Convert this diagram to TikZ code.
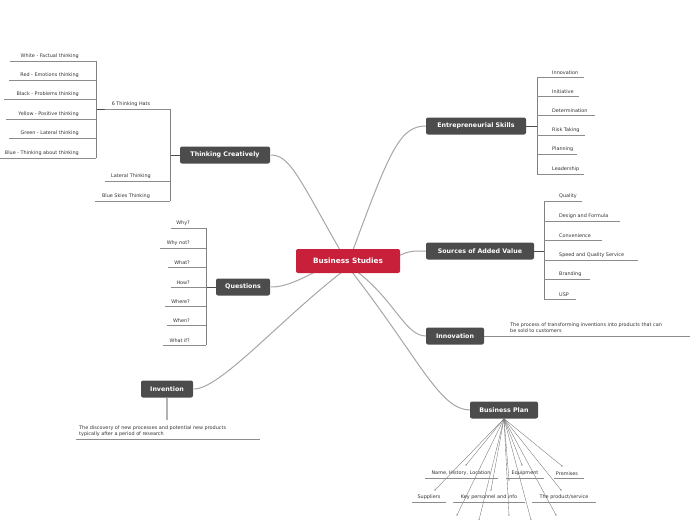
\documentclass[tikz,border=0pt]{standalone}
\usepackage{fontspec}
\setmainfont{DejaVu Sans}
\begin{document}
\begin{tikzpicture}[x=1pt,y=-1pt,
  topic/.style={fill=black!70,rounded corners=2pt,text=white,font=\bfseries\fontsize{6.3}{7}\selectfont,minimum height=17pt,inner xsep=5pt},
  root/.style={fill={rgb,255:red,200;green,32;blue,58},rounded corners=2pt,text=white,font=\bfseries\fontsize{7.3}{8}\selectfont,minimum height=24pt,minimum width=104pt},
  leaf/.style={font=\fontsize{4.9}{5.9}\selectfont,text=black!80,inner sep=1pt},
  ul/.style={draw=black!45,line width=0.5pt},
  br/.style={draw=black!50,line width=0.5pt},
  main/.style={draw=black!35,line width=1pt},
  fan/.style={draw=black!55,line width=0.35pt}]
\useasboundingbox (0,0) rectangle (697,520);
% main connectors
\draw[main] (353,250) .. controls (390,150) and (400,126) .. (426,126);
\draw[main] (398,256) .. controls (410,251) .. (426,251);
\draw[main] (355,270) .. controls (395,300) and (405,336) .. (426,336);
\draw[main] (352,272) .. controls (420,360) and (440,410) .. (470,410);
\draw[main] (340,250) .. controls (300,180) and (290,155) .. (271,155);
\draw[main] (315,272) .. controls (290,285) and (280,287) .. (271,287);
\draw[main] (342,272) .. controls (280,320) and (220,389) .. (194,389);
\node[root] (bs) at (348,261) {Business Studies};
% Entrepreneurial
\node[topic,minimum width=100pt] (es) at (476,126) {Entrepreneurial Skills};
\draw[br,black!70,line width=0.8pt] (es.east) -- (537,126);
\draw[br] (537,77) -- (537,174);
\foreach \t/\y/\w in {Innovation/77/47,Initiative/96/42,Determination/115/58,Risk Taking/135/48,Planning/154/40,Leadership/174/47}{
  \draw[ul] (537,\y) -- ++(\w,0);
  \node[leaf,anchor=south west] at (551,\y-1.5) {\t};}
% Sources
\node[topic,minimum width=108pt] (sv) at (480,251) {Sources of Added Value};
\draw[br,black!70,line width=0.8pt] (sv.east) -- (544,251);
\draw[br] (544,201) -- (544,299);
\foreach \t/\y/\w in {Quality/201/38,Design and Formula/221/76,Convenience/240/58,Speed and Quality Service/260/94,Branding/279/46,USP/299/32}{
  \draw[ul] (544,\y) -- ++(\w,0);
  \node[leaf,anchor=south west] at (558,\y-1.5) {\t};}
% Innovation
\node[topic,minimum width=58pt] (in) at (455,336) {Innovation};
\draw[ul] (in.east) -- (690,336);
\node[leaf,anchor=south west,align=left] at (509,334) {The process of transforming inventions into products that can\\be sold to customers};
% Business Plan
\node[topic,minimum width=68pt] (bp) at (504,410) {Business Plan};
\foreach \x/\y in {435/490,466/465,491/490,522/465,561/490,562/466,457/515,479/520,509/515,531/520,556/515,509/480}{
  \draw[fan] (bp.south) -- (\x,\y); \fill[black!70] (\x,\y) circle (0.6pt);}
\node[leaf,anchor=south] (n1) at (461,477) {Name, History, Location};
\draw[ul] (425,478) -- (498,478);
\node[leaf,anchor=south] (n2) at (525,477) {Equipment};
\draw[ul] (506,478) -- (544,478);
\node[leaf,anchor=south] (n3) at (567,477) {Premises};
\draw[ul] (554,478) -- (584,478);
\node[leaf,anchor=south] (n4) at (429,501) {Suppliers};
\draw[ul] (412,502) -- (446,502);
\node[leaf,anchor=south] (n5) at (489,501) {Key personnel and info};
\draw[ul] (453,502) -- (525,502);
\node[leaf,anchor=south] (n6) at (564,501) {The product/service};
\draw[ul] (532,502) -- (596,502);
% Thinking Creatively
\node[topic,minimum width=90pt] (tc) at (225,155) {Thinking Creatively};
\draw[br,black!70,line width=0.8pt] (tc.west) -- (170,155);
\draw[br] (170,109) -- (170,201);
\draw[ul] (96,109) -- (170,109);
\node[leaf,anchor=south] at (131,107.5) {6 Thinking Hats};
\draw[ul] (105,181) -- (170,181);
\node[leaf,anchor=south] at (131,179.5) {Lateral Thinking};
\draw[ul] (95,201) -- (170,201);
\node[leaf,anchor=south] at (126,199.5) {Blue Skies Thinking};
\draw[br,black!70,line width=0.8pt] (96,109) -- (105,109);
\draw[br] (96,61) -- (96,158);
\foreach \t/\y/\x in {White - Factual thinking/61/10,Red - Emotions thinking/80/9,Black - Problems thinking/99/4,Yellow - Positive thinking/119/6,Green - Lateral thinking/138/9,Blue - Thinking about thinking/158/0}{
  \draw[ul] (\x,\y) -- (96,\y);
  \node[leaf,anchor=south east] at (80,\y-1.5) {\t};}
% Questions
\node[topic,minimum width=54pt] (q) at (243,287) {Questions};
\draw[br,black!70,line width=0.8pt] (q.west) -- (206,287);
\draw[br] (206,228) -- (206,345);
\foreach \t/\y/\x in {Why?/228/171,Why not?/248/160,What?/267/168,How?/287/171,Where?/306/165,When?/325/167,What if?/345/163}{
  \draw[ul] (\x,\y) -- (206,\y);
  \node[leaf,anchor=south east] at (191,\y-1.5) {\t};}
% Invention
\node[topic,minimum width=52pt] (iv) at (167,389) {Invention};
\draw[draw=black!30,line width=1.5pt] (iv.south) -- (167,420);
\draw[ul] (76,439) -- (260,439);
\node[leaf,anchor=south west,align=left] at (78,438) {The discovery of new processes and potential new products\\typically after a period of research};
\end{tikzpicture}
\end{document}
